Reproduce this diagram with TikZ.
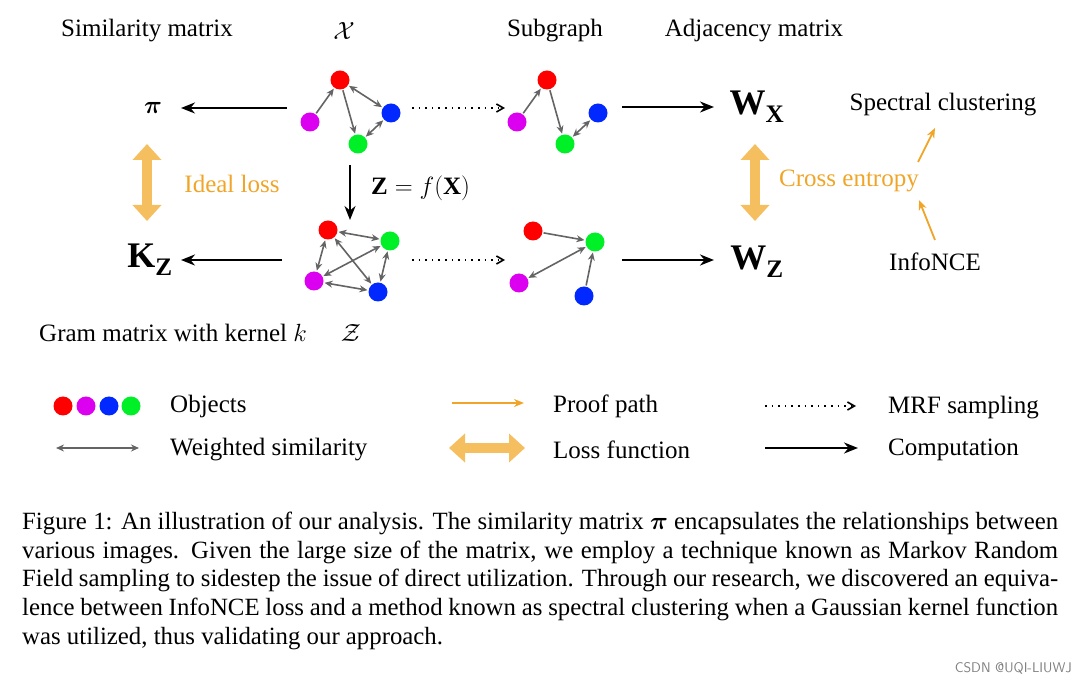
\documentclass[tikz,border=0pt]{standalone}
\usepackage{amsmath,amssymb,bm}
\usepackage{fontspec}
\setmainfont{Liberation Serif}
\usetikzlibrary{arrows.meta}
\definecolor{cred}{RGB}{255,0,0}
\definecolor{cmag}{RGB}{220,0,240}
\definecolor{cblu}{RGB}{0,40,255}
\definecolor{cgrn}{RGB}{0,240,40}
\definecolor{lorange}{RGB}{245,190,95}
\definecolor{dorange}{RGB}{240,165,40}
\definecolor{egray}{RGB}{100,100,100}
\begin{document}
\begin{tikzpicture}[x=1pt,y=-1pt,
  dot/.style={circle,inner sep=0pt,minimum size=19pt},
  r/.style={dot,fill=cred}, m/.style={dot,fill=cmag}, b/.style={dot,fill=cblu}, g/.style={dot,fill=cgrn},
  e/.style={draw=egray,line width=1.6pt,-{Stealth[length=8pt,width=7pt]},shorten <=1pt,shorten >=1pt},
  ee/.style={e,{Stealth[length=8pt,width=7pt]}-{Stealth[length=8pt,width=7pt]}},
  comp/.style={draw=black,line width=2pt,-{Stealth[length=14pt,width=11pt]}},
  mrf/.style={draw=black,line width=1.6pt,dash pattern=on 1.6pt off 5pt,-{Straight Barb[length=7pt,width=8pt,line width=1.6pt]}},
  loss/.style={draw=lorange,line width=10pt,{Triangle[length=16pt,width=28pt]}-{Triangle[length=16pt,width=28pt]}},
  proof/.style={draw=dorange,line width=1.8pt,-{Stealth[length=10pt,width=8pt]}},
  lbl/.style={font=\fontsize{25}{29}\selectfont,inner sep=0pt},
  big/.style={font=\fontsize{36}{38}\selectfont,inner sep=0pt}]
\useasboundingbox (0,0) rectangle (1085,684);
% top labels
\node[lbl] (t1) at (147,31) {Similarity matrix};
\node[lbl] (t2) at (344,31) {$\mathcal{X}$};
\node[lbl] (t3) at (555,31) {Subgraph};
\node[lbl] (t4) at (754,31) {Adjacency matrix};
\node[lbl] (t5) at (173,333) {Gram matrix with kernel $k$};
\node[lbl] (t6) at (351,333) {$\mathcal{Z}$};
% big symbols
\node[inner sep=0pt,font=\fontsize{50}{52}\selectfont] (pi) at (153,108) {$\bm{\pi}$};
\node[big] (wx) at (757,107) {$\mathbf{W}_{\mathbf{X}}$};
\node[big] (kz) at (150,260) {$\mathbf{K}_{\mathbf{Z}}$};
\node[big] (wz) at (757,262) {$\mathbf{W}_{\mathbf{Z}}$};
% graph 1
\node[r] (a1) at (340,80) {}; \node[m] (a2) at (310,122) {};
\node[b] (a3) at (391,113) {}; \node[g] (a4) at (358,144) {};
\draw[e] (a2)--(a1); \draw[ee] (a1)--(a3); \draw[e] (a1)--(a4); \draw[ee] (a4)--(a3);
% graph 2
\node[r] (b1) at (547,80) {}; \node[m] (b2) at (517,122) {};
\node[b] (b3) at (598,113) {}; \node[g] (b4) at (565,144) {};
\draw[e] (b2)--(b1); \draw[e] (b1)--(b4); \draw[ee] (b4)--(b3);
% graph 3
\node[r] (c1) at (328,230) {}; \node[g] (c2) at (390,241) {};
\node[m] (c3) at (314,281) {}; \node[b] (c4) at (378,292) {};
\draw[ee] (c1)--(c2); \draw[ee] (c1)--(c3); \draw[ee] (c1)--(c4);
\draw[ee] (c3)--(c2); \draw[ee] (c2)--(c4); \draw[ee] (c3)--(c4);
% graph 4
\node[r] (d1) at (533,231) {}; \node[g] (d2) at (595,242) {};
\node[m] (d3) at (519,283) {}; \node[b] (d4) at (584,296) {};
\draw[e] (d1)--(d2); \draw[ee] (d3)--(d2); \draw[e] (d4)--(d2);
% coordinates for connectors
\coordinate (p1) at (287,108); \coordinate (p2) at (181,108);
\coordinate (p3) at (622,107); \coordinate (p4) at (714,107);
\coordinate (p5) at (282,260); \coordinate (p6) at (181,260);
\coordinate (p7) at (622,260); \coordinate (p8) at (714,260);
\coordinate (q1) at (412,108); \coordinate (q2) at (505,108);
\coordinate (q3) at (412,260); \coordinate (q4) at (505,260);
\coordinate (v1) at (350,165); \coordinate (v2) at (350,220);
\draw[comp] (p1)--(p2); \draw[comp] (p3)--(p4); \draw[comp] (p5)--(p6); \draw[comp] (p7)--(p8);
\draw[mrf] (q1)--(q2); \draw[mrf] (q3)--(q4);
\draw[comp] (v1)--(v2);
\node[lbl,anchor=west] (zf) at (371,188) {$\mathbf{Z}=f(\mathbf{X})$};
% losses
\coordinate (l1) at (147,144); \coordinate (l2) at (147,221);
\coordinate (l3) at (755,144); \coordinate (l4) at (755,221);
\draw[loss] (l1)--(l2); \draw[loss] (l3)--(l4);
\node[lbl,text=dorange] (il) at (232,184) {Ideal loss};
\node[lbl,text=dorange] (ce) at (849,181) {Cross entropy};
\node[lbl] (sc) at (943,105) {Spectral clustering};
\node[lbl] (inf) at (935,262) {InfoNCE};
\coordinate (o1) at (918,162); \coordinate (o2) at (935,128);
\coordinate (o3) at (935,240); \coordinate (o4) at (919,200);
\draw[proof] (o1)--(o2); \draw[proof] (o3)--(o4);
% legend
\node[r] (ld1) at (63,406) {}; \node[m] (ld2) at (86,406) {};
\node[b] (ld3) at (109,406) {}; \node[g] (ld4) at (131,406) {};
\node[lbl,anchor=west] (lt1) at (170,406) {Objects};
\coordinate (g1) at (55,448); \coordinate (g2) at (140,448);
\draw[ee] (g1)--(g2);
\node[lbl,anchor=west] (lt2) at (170,450) {Weighted similarity};
\coordinate (g3) at (452,403); \coordinate (g4) at (524,403);
\draw[proof] (g3)--(g4);
\node[lbl,anchor=west] (lt3) at (553,406) {Proof path};
\coordinate (g5) at (449,448); \coordinate (g6) at (525,448);
\draw[loss] (g5)--(g6);
\node[lbl,anchor=west] (lt4) at (553,450) {Loss function};
\coordinate (g7) at (765,406); \coordinate (g8) at (856,406);
\draw[mrf] (g7)--(g8);
\node[lbl,anchor=west] (lt5) at (888,408) {MRF sampling};
\coordinate (g9) at (765,448); \coordinate (g10) at (858,448);
\draw[comp] (g9)--(g10);
\node[lbl,anchor=west] (lt6) at (888,450) {Computation};
% caption
\node[anchor=north west,inner sep=0pt,text width=1036pt,align=justify,font=\fontsize{24.8}{28.6}\selectfont] (cap) at (22,512)
{Figure 1: An illustration of our analysis. The similarity matrix $\bm{\pi}$ encapsulates the relationships between various images. Given the large size of the matrix, we employ a technique known as Markov Random Field sampling to sidestep the issue of direct utilization. Through our research, we discovered an equivalence between InfoNCE loss and a method known as spectral clustering when a Gaussian kernel function was utilized, thus validating our approach.};
\node[anchor=east,inner sep=0pt,text=gray,font=\sffamily\fontsize{14}{16}\selectfont] (wm) at (1072,668) {CSDN @UQI-LIUWJ};
\end{tikzpicture}
\end{document}
